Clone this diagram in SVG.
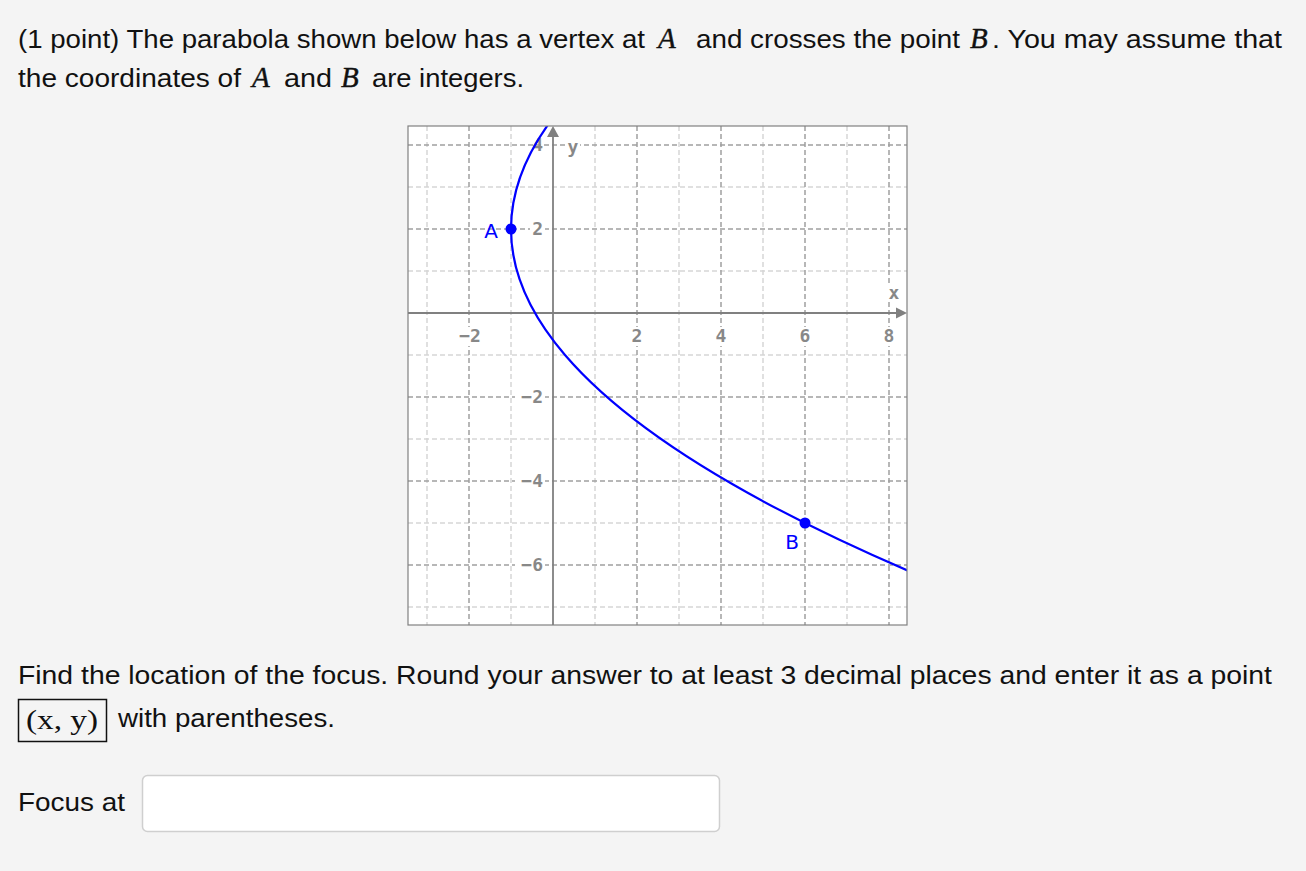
<svg xmlns="http://www.w3.org/2000/svg" width="1306" height="871" viewBox="0 0 1306 871">
<style>
.t{font-family:"Liberation Sans",Arial,sans-serif;font-size:26px;fill:#111}
.m{font-family:"Liberation Serif","Times New Roman",serif;font-style:italic;font-size:29px;fill:#111;stroke:#111;stroke-width:0.4}
.maj{stroke:#a0a0a0;stroke-width:1.5;stroke-dasharray:5 3;fill:none}
.min{stroke:#d6d6d6;stroke-width:1.5;stroke-dasharray:5 3;fill:none}
.ax{stroke:#808080;stroke-width:1.8;fill:none}
.lbl{font-family:"DejaVu Sans Mono",monospace;font-weight:bold;font-size:18px;fill:#888}
.bg{fill:#ffffff}
.pl{font-family:"DejaVu Sans","Liberation Sans",sans-serif;font-size:20px;fill:#0000ff}
</style>
<defs>
<clipPath id="plotclip"><rect x="408" y="126" width="499" height="499"/></clipPath>
</defs>
<rect width="1306" height="871" fill="#f4f4f4"/>
<g id="question">
<text class="t" x="18" y="48" textLength="627" lengthAdjust="spacingAndGlyphs">(1 point) The parabola shown below has a vertex at</text>
<text class="m" x="658" y="48">A</text>
<text class="t" x="696" y="48" textLength="264" lengthAdjust="spacingAndGlyphs">and crosses the point</text>
<text class="m" x="970" y="48">B</text>
<text class="t" x="992" y="48" textLength="290" lengthAdjust="spacingAndGlyphs">. You may assume that</text>
<text class="t" x="18" y="87" textLength="223" lengthAdjust="spacingAndGlyphs">the coordinates of</text>
<text class="m" x="252" y="87">A</text>
<text class="t" x="284" y="87" textLength="48" lengthAdjust="spacingAndGlyphs">and</text>
<text class="m" x="341" y="87">B</text>
<text class="t" x="372" y="87" textLength="152" lengthAdjust="spacingAndGlyphs">are integers.</text>
</g>
<g id="graph">
<rect x="408" y="126" width="499" height="499" fill="#ffffff"/>
<g id="grid-minor">
<path class="min" d="M427 126V625M511 126V625M595 126V625M679 126V625M763 126V625M847 126V625M408 187H907M408 271H907M408 355H907M408 439H907M408 523H907M408 607H907"/>
</g>
<g id="grid-major">
<path class="maj" d="M469 126V625M637 126V625M721 126V625M805 126V625M889 126V625M408 145H907M408 229H907M408 397H907M408 481H907M408 565H907"/>
</g>
<g id="axes">
<path class="ax" d="M553 136V625M408 313H897"/>
<polygon points="553,126 547,137 559,137" fill="#808080"/>
<polygon points="907,313 896,307.5 896,318.5" fill="#808080"/>
<rect class="bg" x="565" y="139" width="15" height="18"/>
<text class="lbl" x="573" y="153" text-anchor="middle">y</text>
<rect class="bg" x="887" y="284" width="15" height="17"/>
<text class="lbl" x="894" y="299" text-anchor="middle">x</text>
</g>
<g id="tick-labels">
<rect class="bg" x="456" y="327" width="28" height="19"/>
<rect class="bg" x="630" y="327" width="14" height="19"/>
<rect class="bg" x="714" y="327" width="14" height="19"/>
<rect class="bg" x="798" y="327" width="14" height="19"/>
<rect class="bg" x="882" y="327" width="14" height="19"/>
<rect class="bg" x="530" y="220" width="15" height="19"/>
<rect class="bg" x="515" y="388" width="30" height="19"/>
<rect class="bg" x="515" y="472" width="30" height="19"/>
<rect class="bg" x="515" y="556" width="30" height="19"/>
<text class="lbl" x="470" y="342" text-anchor="middle">−2</text>
<text class="lbl" x="637" y="342" text-anchor="middle">2</text>
<text class="lbl" x="721" y="342" text-anchor="middle">4</text>
<text class="lbl" x="805" y="342" text-anchor="middle">6</text>
<text class="lbl" x="889" y="342" text-anchor="middle">8</text>
<text class="lbl" x="543" y="151" text-anchor="end">4</text>
<text class="lbl" x="543" y="235" text-anchor="end">2</text>
<text class="lbl" x="543" y="403" text-anchor="end">−2</text>
<text class="lbl" x="543" y="487" text-anchor="end">−4</text>
<text class="lbl" x="543" y="571" text-anchor="end">−6</text>
</g>
<g id="parabola" clip-path="url(#plotclip)">
<path d="M548.5 124Q383.5 355 944.5 586" stroke="#0000ff" stroke-width="2.2" fill="none"/>
</g>
<rect x="408" y="126" width="499" height="499" fill="none" stroke="#808080" stroke-width="1.2"/>
</g>
<g id="point-A">
<circle cx="511" cy="229" r="5.5" fill="#0000ff"/>
<text class="pl" x="491" y="238" text-anchor="middle">A</text>
</g>
<g id="point-B">
<circle cx="805" cy="523" r="5.5" fill="#0000ff"/>
<text class="pl" x="792" y="549" text-anchor="middle">B</text>
</g>
<g id="instructions">
<text class="t" x="18" y="684" textLength="1254" lengthAdjust="spacingAndGlyphs">Find the location of the focus. Round your answer to at least 3 decimal places and enter it as a point</text>
<rect x="18.5" y="699.5" width="88" height="42" fill="none" stroke="#111" stroke-width="1.5"/>
<text x="62" y="729" text-anchor="middle" font-family="Liberation Serif,'Times New Roman',serif" font-size="28" fill="#111" textLength="72" lengthAdjust="spacingAndGlyphs">(x, y)</text>
<text class="t" x="118" y="727" textLength="217" lengthAdjust="spacingAndGlyphs">with parentheses.</text>
</g>
<g id="answer">
<text class="t" x="18" y="811" textLength="107" lengthAdjust="spacingAndGlyphs">Focus at</text>
<rect x="142.5" y="775.5" width="577" height="56" rx="5" fill="#ffffff" stroke="#cfcfcf" stroke-width="1.5"/>
</g>
</svg>
